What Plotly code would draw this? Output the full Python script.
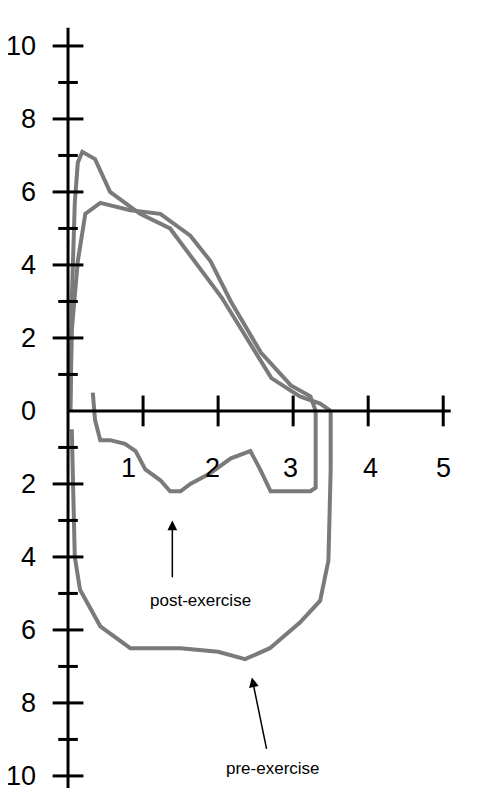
import plotly.graph_objects as go

pre_up_x=[0.03,0.05,0.09,0.13,0.19,0.36,0.56,0.96,1.36,1.69,2.05,2.71,3.09,3.36,3.5]
pre_up_y=[0,3,5.7,6.8,7.1,6.9,6.0,5.4,5.0,4.1,3.1,0.9,0.4,0.2,0]
post_up_x=[0.03,0.05,0.13,0.23,0.43,0.83,1.23,1.63,1.9,2.17,2.57,2.97,3.23,3.3]
post_up_y=[0,2.2,4.1,5.4,5.7,5.5,5.4,4.8,4.1,3.0,1.6,0.7,0.4,0]
pre_lo_x=[3.5,3.5,3.47,3.36,3.09,2.69,2.36,2.0,1.5,0.83,0.43,0.16,0.09,0.07,0.05]
pre_lo_y=[0,-1.6,-4.1,-5.2,-5.8,-6.5,-6.8,-6.6,-6.5,-6.5,-5.9,-4.9,-4.0,-1.9,-0.5]
post_lo_x=[0.33,0.36,0.43,0.56,0.76,0.9,1.03,1.23,1.36,1.5,1.63,1.9,2.17,2.43,2.56,2.7,2.97,3.23,3.3,3.3]
post_lo_y=[0.5,-0.25,-0.8,-0.8,-0.9,-1.1,-1.6,-1.9,-2.2,-2.2,-2.0,-1.7,-1.3,-1.1,-1.6,-2.2,-2.2,-2.2,-2.1,0]
y_major=[-10,-8,-6,-4,-2,2,4,6,8,10]
y_minor=[-9,-7,-5,-3,-1,1,3,5,7,9]
x_major=[1,2,3,4,5]
y_labels=["10","8","6","4","2","0","2","4","6","8","10"]
x_labels=["1","2","3","4","5"]

gray="#7a7a7a"
fig=go.Figure()
for xs,ys in [(pre_up_x,pre_up_y),(post_up_x,post_up_y),(pre_lo_x,pre_lo_y),(post_lo_x,post_lo_y)]:
    fig.add_trace(go.Scatter(x=xs,y=ys,mode="lines",line=dict(color=gray,width=4),hoverinfo="skip"))
fig.add_trace(go.Scatter(x=[0]*len(y_major),y=y_major,mode="markers",marker=dict(symbol="line-ew",size=22,line=dict(width=3,color="black"))))
fig.add_trace(go.Scatter(x=[0]*len(y_minor),y=y_minor,mode="markers",marker=dict(symbol="line-ew",size=14,line=dict(width=3,color="black"))))
fig.add_trace(go.Scatter(x=x_major,y=[0]*5,mode="markers",marker=dict(symbol="line-ns",size=22,line=dict(width=3,color="black"))))
fig.add_shape(type="line",x0=0,x1=0,y0=-10.6,y1=10.5,line=dict(color="black",width=3))
fig.add_shape(type="line",x0=0,x1=5.1,y0=0,y1=0,line=dict(color="black",width=3))
f=dict(family="Liberation Sans, Arial",size=27,color="black")
for i,lab in enumerate(y_labels):
    fig.add_annotation(x=-0.4,y=10-2*i,text=lab,showarrow=False,xanchor="right",font=f)
x_lab_pos=[0.8,1.92,2.96,4.03,5.0]
for xp,lab in zip(x_lab_pos,x_labels):
    fig.add_annotation(x=xp,y=-1.55,text=lab,showarrow=False,font=f)
af=dict(family="Liberation Sans, Arial",size=17,color="black")
fig.add_annotation(x=1.76,y=-5.2,text="post-exercise",showarrow=False,font=af)
fig.add_annotation(x=1.39,y=-3.0,text="",showarrow=True,ax=1.39,ay=-4.6,axref="x",ayref="y",arrowhead=2,arrowsize=1.3,arrowwidth=1.5,arrowcolor="black")
fig.add_annotation(x=2.73,y=-9.8,text="pre-exercise",showarrow=False,font=af)
fig.add_annotation(x=2.45,y=-7.3,text="",showarrow=True,ax=2.65,ay=-9.3,axref="x",ayref="y",arrowhead=2,arrowsize=1.3,arrowwidth=1.5,arrowcolor="black")
fig.update_layout(width=487,height=788,margin=dict(l=0,r=0,t=0,b=0),showlegend=False,
                  plot_bgcolor="white",paper_bgcolor="white",
                  xaxis=dict(range=[-0.8,5.69],visible=False),
                  yaxis=dict(range=[-10.55,11.04],visible=False))
fig.write_html("out.html")
